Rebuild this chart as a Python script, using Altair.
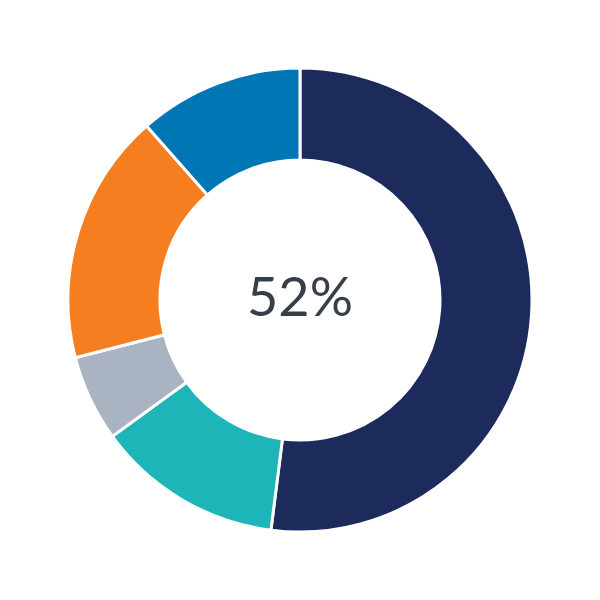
import altair as alt
import pandas as pd

categories = ["A", "B", "C", "D", "E"]
values = [52, 13, 6, 17.5, 11.5]
colors = ["#1c2b5b", "#1db5b7", "#a9b3c2", "#f47e20", "#0076b5"]
center_label = "52%"

df = pd.DataFrame({"cat": categories, "value": values, "order": list(range(len(categories)))})

donut = alt.Chart(df).mark_arc(innerRadius=140, outerRadius=232, stroke="white", strokeWidth=3).encode(
    theta=alt.Theta("value:Q", stack=True),
    color=alt.Color("cat:N", scale=alt.Scale(domain=categories, range=colors), legend=None),
    order=alt.Order("order:Q"),
)

text = alt.Chart(pd.DataFrame({"t": [center_label]})).mark_text(
    font="Lato", fontSize=54, fontWeight="normal", color="#363f4c", align="center", baseline="middle"
).encode(text="t:N", x=alt.value(292), y=alt.value(292))

chart = alt.layer(donut, text).properties(
    width=584, height=584,
    autosize=alt.AutoSizeParams(type="fit", contains="padding"),
    padding=0,
).configure_view(stroke=None)

chart.save("out.html", embed_options={"renderer": "svg", "actions": False})
